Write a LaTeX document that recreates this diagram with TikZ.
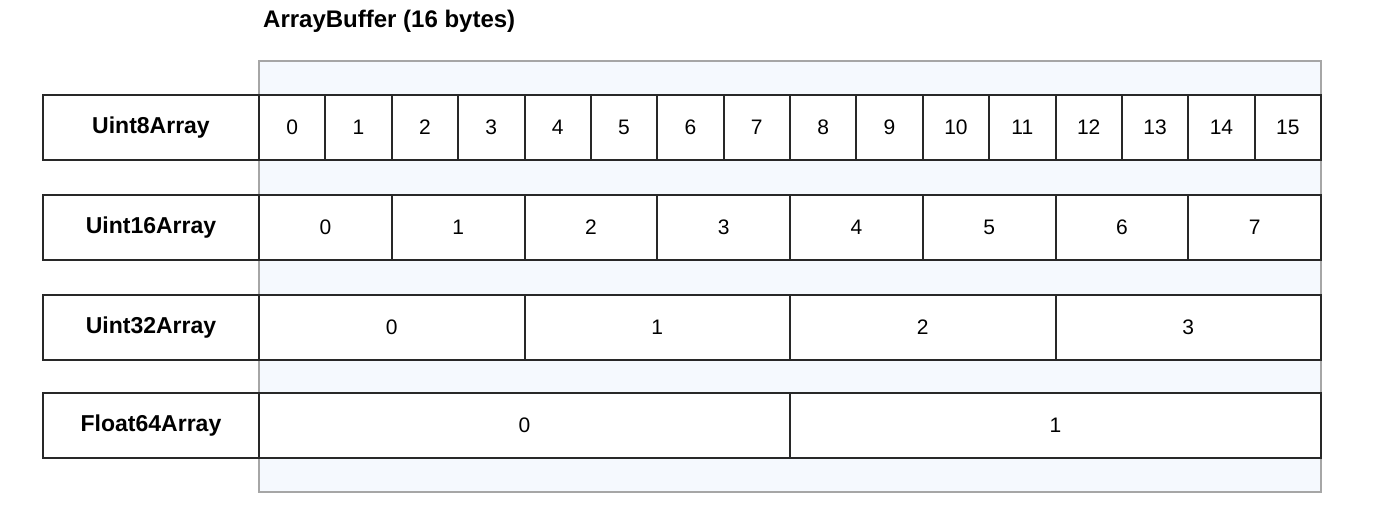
\documentclass[tikz,border=0pt]{standalone}
\usepackage{fontspec}
\setmainfont{Liberation Sans}
\usepackage{xcolor}
\usepackage{tikz}
\definecolor{bufferFill}{RGB}{245,249,254}
\definecolor{bufferLine}{RGB}{166,166,166}
\definecolor{cellLine}{RGB}{40,40,40}
\newcommand{\bufferLabel}{ArrayBuffer (16 bytes)}
\newcommand{\byteCount}{16}
\newcommand{\bufferLeft}{259}
\newcommand{\bufferRight}{1321}
\newcommand{\bufferTop}{61}
\newcommand{\bufferBottom}{492}
\newcommand{\labelLeft}{43}
\newcommand{\rowHeight}{65}
\newcommand{\viewRows}{1/Uint8Array/95/1, 2/Uint16Array/195/2, 3/Uint32Array/295/4, 4/Float64Array/393/8} % row/name/top/bytes per element

\begin{document}
\begin{tikzpicture}[x=1pt, y=-1pt,
		bufferbox/.style={draw=bufferLine, fill=bufferFill, line width=2pt, inner sep=0},
		viewlabel/.style={draw=cellLine, fill=white, line width=2pt, inner sep=0, font=\fontsize{23}{27}\selectfont\bfseries},
		viewcell/.style={draw=cellLine, fill=white, line width=2pt, inner sep=0, font=\fontsize{21}{25}\selectfont},
		titletext/.style={inner sep=0, font=\fontsize{24}{28}\selectfont\bfseries}]
	\useasboundingbox (0,0) rectangle (1396,532);
	
	\pgfmathsetmacro{\bufferWidth}{\bufferRight-\bufferLeft}
	\pgfmathsetmacro{\bufferHeight}{\bufferBottom-\bufferTop}
	\pgfmathsetmacro{\labelWidth}{\bufferLeft-\labelLeft}
	
	\node[titletext, anchor=west] (title) at (263,21) {\bufferLabel};
	\node[bufferbox, minimum width=\bufferWidth pt, minimum height=\bufferHeight pt] (buffer) at ({(\bufferLeft+\bufferRight)/2},{(\bufferTop+\bufferBottom)/2}) {};
	
	\foreach \row/\name/\rowTop/\bytes in \viewRows
	{
		\pgfmathsetmacro{\cellCount}{int(\byteCount/\bytes)}
		\pgfmathsetmacro{\lastCell}{int(\cellCount-1)}
		\pgfmathsetmacro{\cellWidth}{\bufferWidth/\cellCount}
		\node[viewlabel, minimum width=\labelWidth pt, minimum height=\rowHeight pt] (view\row) at ({(\labelLeft+\bufferLeft)/2},{\rowTop+\rowHeight/2}) {\name};
		\foreach \i in {0,...,\lastCell}
		{
			\node[viewcell, minimum width=\cellWidth pt, minimum height=\rowHeight pt] (cell\row-\i) at ({\bufferLeft+(\i+0.5)*\cellWidth},{\rowTop+\rowHeight/2}) {\i};
		}
	}
\end{tikzpicture}
\end{document}
